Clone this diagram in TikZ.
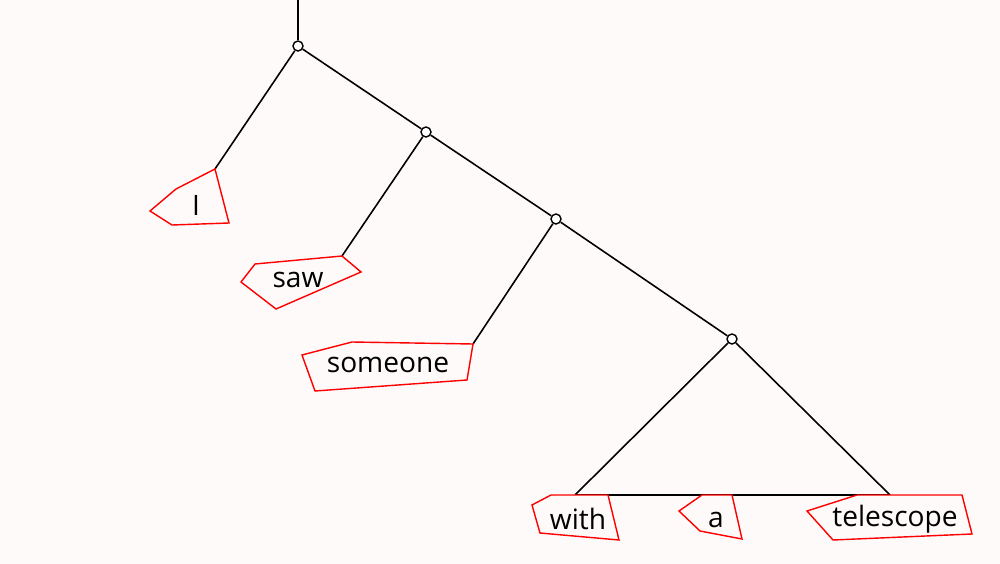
\documentclass[tikz,border=0pt]{standalone}
\usepackage{fontspec}
\setmainfont{Open Sans}
\definecolor{paper}{HTML}{FDFAF9}
\begin{document}
\begin{tikzpicture}[x=0.02cm, y=-0.02cm,
        branch/.style={draw, line width=0.9pt},
        joint/.style={circle, draw, line width=0.8pt, fill=white, inner sep=0pt, minimum size=0.2cm},
        leaf/.style={draw=red, line width=0.8pt, fill=paper, line join=miter},
        word/.style={inner sep=0pt, font=\fontsize{16}{19}\selectfont}
    ]
    % Background
    \fill[paper] (0,0) rectangle (1000,564);
    \useasboundingbox (0,0) rectangle (1000,564);

    % Joints
    \coordinate (root) at (298,0);
    \node[joint] (n1) at (298,46) {};
    \node[joint] (n2) at (426,132) {};
    \node[joint] (n3) at (556,219) {};
    \node[joint] (n4) at (732,339) {};

    % Tops of the leaves
    \coordinate (tI) at (215,169);
    \coordinate (tSaw) at (342,256);
    \coordinate (tSomeone) at (473,344);
    \coordinate (tWith) at (575,495);
    \coordinate (tTelescope) at (890,495);

    % Branches
    \draw[branch] (root) -- (n1);
    \draw[branch] (n1) -- (n2);
    \draw[branch] (n2) -- (n3);
    \draw[branch] (n3) -- (n4);
    \draw[branch] (n1) -- (tI);
    \draw[branch] (n2) -- (tSaw);
    \draw[branch] (n3) -- (tSomeone);
    \draw[branch] (n4) -- (tWith);
    \draw[branch] (n4) -- (tTelescope);
    \draw[branch] (tWith) -- (tTelescope);

    % Leaves
    \draw[leaf] (tI) -- (229,223) -- (172,225) -- (150,211) -- (176,189) -- cycle;
    \node[word] (wI) at (196,205) {I};
    \draw[leaf] (tSaw) -- (361,272) -- (276,309) -- (241,282) -- (255,264) -- cycle;
    \node[word] (wSaw) at (298,280) {saw};
    \draw[leaf] (tSomeone) -- (467,380) -- (315,391) -- (302,355) -- (352,342) -- cycle;
    \node[word] (wSomeone) at (388,365) {someone};
    \draw[leaf] (551,495) -- (608,495) -- (619,540) -- (540,533) -- (532,505) -- cycle;
    \node[word] (wWith) at (578,519) {with};
    \draw[leaf] (702,495) -- (732,495) -- (742,539) -- (700,531) -- (679,511) -- cycle;
    \node[word] (wA) at (716,520) {a};
    \draw[leaf] (857,495) -- (962,495) -- (972,534) -- (833,540) -- (807,511) -- cycle;
    \node[word] (wTelescope) at (895,519) {telescope};

\end{tikzpicture}
\end{document}
